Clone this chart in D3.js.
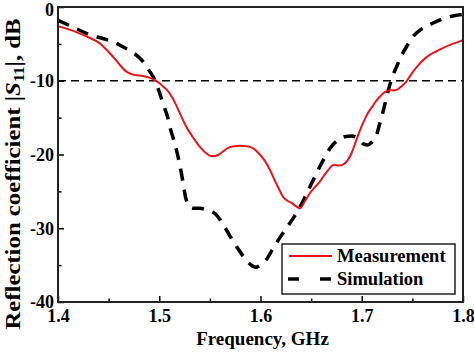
<!DOCTYPE html>
<html><head><meta charset="utf-8">
<script src="https://cdn.jsdelivr.net/npm/d3@7"></script>
<style>body{margin:0;background:#fff}svg{display:block}text{font-family:"Liberation Serif","Times New Roman",serif;font-weight:bold;fill:#000}</style>
</head><body><div id="chart"></div>
<script>
const xTicks = [1.4, 1.5, 1.6, 1.7, 1.8];
const xMinor = [1.45, 1.55, 1.65, 1.75];
const yTicks = [0, -10, -20, -30, -40];
const yMinor = [-5, -15, -25, -35];
const refLevel = -10;
const measFreq = [1.400,1.410,1.420,1.430,1.441,1.450,1.456,1.462,1.468,1.475,1.481,1.488,1.494,1.500,1.504,1.508,1.513,1.517,1.522,1.527,1.533,1.538,1.543,1.547,1.551,1.555,1.559,1.563,1.568,1.573,1.580,1.587,1.592,1.598,1.604,1.609,1.614,1.618,1.622,1.627,1.631,1.635,1.639,1.644,1.649,1.654,1.659,1.663,1.667,1.670,1.673,1.677,1.681,1.686,1.690,1.694,1.698,1.702,1.706,1.711,1.715,1.719,1.723,1.728,1.733,1.738,1.743,1.748,1.754,1.760,1.767,1.774,1.781,1.788,1.794,1.800];
const measS11 = [-2.6,-3.0,-3.5,-4.1,-4.9,-6.1,-7.0,-8.0,-8.8,-9.2,-9.3,-9.5,-9.8,-10.3,-10.8,-11.3,-12.3,-13.4,-14.9,-16.3,-17.6,-18.6,-19.4,-19.9,-20.2,-20.2,-20.0,-19.6,-19.1,-18.9,-18.8,-18.9,-19.1,-19.8,-20.8,-22.0,-23.5,-24.6,-25.7,-26.3,-26.6,-27.0,-27.3,-26.3,-25.2,-24.4,-23.6,-22.8,-22.1,-21.6,-21.4,-21.5,-21.4,-20.8,-19.8,-18.3,-16.8,-15.5,-14.4,-13.4,-12.6,-12.0,-11.5,-11.3,-11.3,-10.9,-10.3,-9.3,-8.2,-7.3,-6.5,-6.0,-5.5,-5.1,-4.8,-4.5];
const simFreq = [1.400,1.416,1.432,1.445,1.454,1.464,1.472,1.478,1.484,1.490,1.496,1.500,1.504,1.508,1.511,1.514,1.517,1.520,1.523,1.526,1.529,1.533,1.540,1.547,1.555,1.562,1.570,1.577,1.584,1.590,1.595,1.600,1.606,1.613,1.620,1.626,1.633,1.639,1.646,1.653,1.658,1.663,1.669,1.676,1.683,1.690,1.696,1.702,1.706,1.710,1.714,1.718,1.721,1.724,1.727,1.731,1.735,1.740,1.745,1.750,1.756,1.763,1.770,1.778,1.787,1.795,1.800];
const simS11 = [-1.8,-2.8,-3.8,-4.3,-4.7,-5.4,-6.0,-6.6,-7.4,-8.6,-10.0,-11.5,-13.2,-14.8,-16.5,-17.9,-19.4,-21.2,-23.4,-25.8,-26.9,-27.3,-27.3,-27.5,-28.0,-29.2,-31.1,-32.6,-34.0,-34.9,-35.3,-35.0,-34.2,-32.6,-31.1,-29.9,-28.5,-27.1,-25.2,-23.2,-21.8,-20.5,-19.1,-18.1,-17.6,-17.5,-17.8,-18.6,-18.7,-18.3,-17.6,-15.7,-14.2,-12.5,-10.9,-9.2,-7.9,-6.4,-5.2,-4.1,-3.3,-2.7,-2.2,-1.7,-1.3,-1.1,-1.0];
const seriesNames = ["Measurement", "Simulation"];

const W = 474, H = 352;
const L = 58, R = 463, T = 7, B = 302;
const svg = d3.select("#chart").append("svg").attr("width", W).attr("height", H);
const x = d3.scaleLinear().domain([1.4, 1.8]).range([L, R]);
const y = d3.scaleLinear().domain([-40, 0]).range([B, T]);

svg.append("clipPath").attr("id", "clip").append("rect")
  .attr("x", L).attr("y", T).attr("width", R - L).attr("height", B - T);

const g = svg.append("g").attr("clip-path", "url(#clip)");
g.append("line").attr("x1", L).attr("x2", R).attr("y1", y(refLevel)).attr("y2", y(refLevel))
  .attr("stroke", "#000").attr("stroke-width", 1.5).attr("stroke-dasharray", "8,5");

const line = d3.line().x(d => x(d[0])).y(d => y(d[1])).curve(d3.curveMonotoneX);
g.append("path").datum(simFreq.map((f, i) => [f, simS11[i]]))
  .attr("d", line).attr("fill", "none").attr("stroke", "#000")
  .attr("stroke-width", 3.5).attr("stroke-dasharray", "12,9");
g.append("path").datum(measFreq.map((f, i) => [f, measS11[i]]))
  .attr("d", line).attr("fill", "none").attr("stroke", "#e8141a")
  .attr("stroke-width", 2);

const xAxis = svg.append("g").attr("transform", `translate(0,${B})`)
  .call(d3.axisBottom(x).tickValues(xTicks).tickSizeInner(-6).tickSizeOuter(0).tickFormat(d3.format(".1f")));
xAxis.select(".domain").remove();
xAxis.selectAll(".tick line").attr("stroke", "#000").attr("stroke-width", 1.5);
xAxis.selectAll(".tick text").attr("y", 20).attr("dy", 0).attr("font-size", 18)
  .style("font-family", '"Liberation Serif",serif').style("font-weight", "bold");
const xAxisMinor = svg.append("g").attr("transform", `translate(0,${B})`)
  .call(d3.axisBottom(x).tickValues(xMinor).tickSizeInner(-3.5).tickSizeOuter(0).tickFormat(""));
xAxisMinor.select(".domain").remove();
xAxisMinor.selectAll(".tick line").attr("stroke", "#000").attr("stroke-width", 1.5);

const yAxis = svg.append("g").attr("transform", `translate(${L},0)`)
  .call(d3.axisLeft(y).tickValues(yTicks).tickSizeInner(-6).tickSizeOuter(0).tickFormat(d => d === 0 ? "0" : "-" + Math.abs(d)));
yAxis.select(".domain").remove();
yAxis.selectAll(".tick line").attr("stroke", "#000").attr("stroke-width", 1.5);
yAxis.selectAll(".tick text").attr("x", -4).attr("font-size", 18)
  .style("font-family", '"Liberation Serif",serif').style("font-weight", "bold");
yAxis.selectAll(".tick text").filter(d => d === 0).attr("dy", "0.45em");
const yAxisMinor = svg.append("g").attr("transform", `translate(${L},0)`)
  .call(d3.axisLeft(y).tickValues(yMinor).tickSizeInner(-3.5).tickSizeOuter(0).tickFormat(""));
yAxisMinor.select(".domain").remove();
yAxisMinor.selectAll(".tick line").attr("stroke", "#000").attr("stroke-width", 1.5);

svg.append("rect").attr("x", L).attr("y", T).attr("width", R - L).attr("height", B - T)
  .attr("fill", "none").attr("stroke", "#222").attr("stroke-width", 2);

svg.append("text").attr("x", (L + R) / 2 + 2).attr("y", 345).attr("text-anchor", "middle")
  .attr("font-size", 19).text("Frequency, GHz");
const yl = svg.append("text").attr("transform", "translate(20,174) rotate(-90) scale(1.18,1)")
  .attr("text-anchor", "middle").attr("font-size", 21);
yl.append("tspan").text("Reflection coefficient |");
yl.append("tspan").attr("font-style", "italic").text("S");
yl.append("tspan").attr("font-size", 14).attr("dy", 4).text("11");
yl.append("tspan").attr("dy", -4).text("|, dB");

const lg = svg.append("g");
lg.append("rect").attr("x", 282).attr("y", 244).attr("width", 173).attr("height", 50)
  .attr("fill", "#fff").attr("stroke", "#222").attr("stroke-width", 1.5);
lg.append("line").attr("x1", 289).attr("x2", 332).attr("y1", 256).attr("y2", 256)
  .attr("stroke", "#e8141a").attr("stroke-width", 2);
lg.append("line").attr("x1", 288).attr("x2", 331).attr("y1", 279).attr("y2", 279)
  .attr("stroke", "#000").attr("stroke-width", 3.5).attr("stroke-dasharray", "11,21");
lg.append("text").attr("x", 337).attr("y", 262).attr("font-size", 18.5).text(seriesNames[0]);
lg.append("text").attr("x", 337).attr("y", 285).attr("font-size", 18.5).text(seriesNames[1]);
</script></body></html>
